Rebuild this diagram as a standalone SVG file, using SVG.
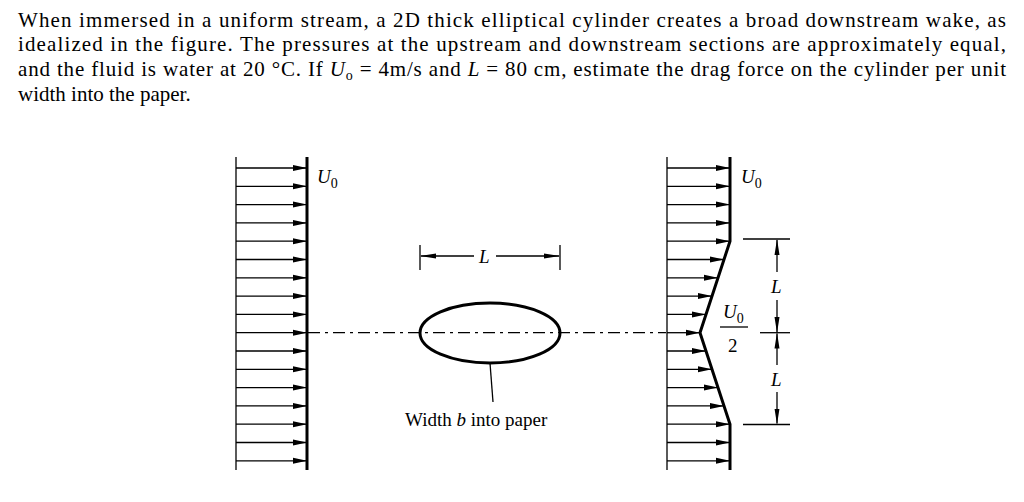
<svg xmlns="http://www.w3.org/2000/svg" width="1024" height="502" viewBox="0 0 1024 502">
<style>
.t{font-family:"Liberation Serif",serif;font-size:21px;fill:#000}
.d{font-family:"Liberation Serif",serif;font-size:19px;fill:#000}
.i{font-style:italic}
.l{stroke:#000;stroke-width:1.3;fill:none}
.th{stroke:#000;stroke-width:3;fill:none}
</style>
<defs>
<marker id="a" markerWidth="14" markerHeight="8" refX="13" refY="4" orient="auto" markerUnits="userSpaceOnUse"><path d="M0,1 L14,4 L0,7 Z" fill="#000"/></marker>
<marker id="s" markerWidth="16" markerHeight="8" refX="15" refY="4" orient="auto" markerUnits="userSpaceOnUse"><path d="M0,1.5 L16,4 L0,6.5 Z" fill="#000"/></marker>
</defs>
<rect width="1024" height="502" fill="#fff"/>
<g id="problem">
<text class="t" x="18" y="27" textLength="988" lengthAdjust="spacing">When immersed in a uniform stream, a 2D thick elliptical cylinder creates a broad downstream wake, as</text>
<text class="t" x="18" y="51" textLength="988" lengthAdjust="spacing">idealized in the figure. The pressures at the upstream and downstream sections are approximately equal,</text>
<text class="t" x="18" y="76" textLength="988" lengthAdjust="spacing">and the fluid is water at 20 °C. If <tspan class="i">U</tspan><tspan font-size="14" dy="4">o</tspan><tspan dy="-4"> = 4m/s and </tspan><tspan class="i">L</tspan> = 80 cm, estimate the drag force on the cylinder per unit</text>
<text class="t" x="18" y="101">width into the paper.</text>
</g>
<g id="connectors">
<line class="l" x1="236" y1="157" x2="236" y2="470"/>
<line class="th" x1="307" y1="157" x2="307" y2="470"/>
<g class="l" marker-end="url(#a)">
<line x1="236" y1="168" x2="306" y2="168"/><line x1="236" y1="186.3" x2="306" y2="186.3"/><line x1="236" y1="204.6" x2="306" y2="204.6"/><line x1="236" y1="222.9" x2="306" y2="222.9"/><line x1="236" y1="241.2" x2="306" y2="241.2"/><line x1="236" y1="259.5" x2="306" y2="259.5"/><line x1="236" y1="277.8" x2="306" y2="277.8"/><line x1="236" y1="296.1" x2="306" y2="296.1"/><line x1="236" y1="314.4" x2="306" y2="314.4"/><line x1="236" y1="332.7" x2="306" y2="332.7"/><line x1="236" y1="351" x2="306" y2="351"/><line x1="236" y1="369.3" x2="306" y2="369.3"/><line x1="236" y1="387.6" x2="306" y2="387.6"/><line x1="236" y1="405.9" x2="306" y2="405.9"/><line x1="236" y1="424.2" x2="306" y2="424.2"/><line x1="236" y1="442.5" x2="306" y2="442.5"/><line x1="236" y1="460.8" x2="306" y2="460.8"/>
</g>
<line class="l" x1="667" y1="157" x2="667" y2="470"/>
<polyline class="th" points="730,157 730,241.2 700,332.7 730,424.2 730,470"/>
<g class="l" marker-end="url(#a)">
<line x1="667" y1="168" x2="729" y2="168"/><line x1="667" y1="186.3" x2="729" y2="186.3"/><line x1="667" y1="204.6" x2="729" y2="204.6"/><line x1="667" y1="222.9" x2="729" y2="222.9"/><line x1="667" y1="241.2" x2="729" y2="241.2"/><line x1="667" y1="259.5" x2="723" y2="259.5"/><line x1="667" y1="277.8" x2="717" y2="277.8"/><line x1="667" y1="296.1" x2="711" y2="296.1"/><line x1="667" y1="314.4" x2="705" y2="314.4"/><line x1="667" y1="332.7" x2="699" y2="332.7"/><line x1="667" y1="351" x2="705" y2="351"/><line x1="667" y1="369.3" x2="711" y2="369.3"/><line x1="667" y1="387.6" x2="717" y2="387.6"/><line x1="667" y1="405.9" x2="723" y2="405.9"/><line x1="667" y1="424.2" x2="729" y2="424.2"/><line x1="667" y1="442.5" x2="729" y2="442.5"/><line x1="667" y1="460.8" x2="729" y2="460.8"/>
</g>
<line class="l" x1="308" y1="332.7" x2="666" y2="332.7" stroke-dasharray="12,5,3,5"/>
<line class="l" x1="420" y1="245" x2="420" y2="270"/>
<line class="l" x1="560" y1="245" x2="560" y2="270"/>
<line class="l" x1="474" y1="256" x2="421" y2="256" marker-end="url(#s)"/>
<line class="l" x1="496" y1="256" x2="559" y2="256" marker-end="url(#s)"/>
<line class="l" x1="490" y1="363" x2="493" y2="402"/>
<line class="l" x1="743" y1="239" x2="790" y2="239"/>
<line class="l" x1="760" y1="332.7" x2="790" y2="332.7"/>
<line class="l" x1="743" y1="424.5" x2="790" y2="424.5"/>
<line class="l" x1="777" y1="272" x2="777" y2="240" marker-end="url(#s)"/>
<line class="l" x1="777" y1="300" x2="777" y2="332" marker-end="url(#s)"/>
<line class="l" x1="777" y1="365" x2="777" y2="333.5" marker-end="url(#s)"/>
<line class="l" x1="777" y1="392" x2="777" y2="423.5" marker-end="url(#s)"/>
<line class="l" x1="720" y1="327" x2="748" y2="327"/>
</g>
<g id="cylinder">
<ellipse cx="490" cy="333" rx="70" ry="30" fill="none" stroke="#000" stroke-width="3"/>
</g>
<g id="labels">
<text class="d i" x="317" y="183">U<tspan font-style="normal" font-size="14" dy="5">0</tspan></text>
<text class="d i" x="741" y="183">U<tspan font-style="normal" font-size="14" dy="5">0</tspan></text>
<text class="d i" x="479" y="263">L</text>
<text class="d i" x="723" y="318">U<tspan font-style="normal" font-size="14" dy="5">0</tspan></text>
<text class="d" x="728" y="352">2</text>
<text class="d i" x="771" y="293">L</text>
<text class="d i" x="771" y="386">L</text>
<text class="d" x="405" y="426">Width <tspan class="i">b</tspan> into paper</text>
</g>
</svg>
